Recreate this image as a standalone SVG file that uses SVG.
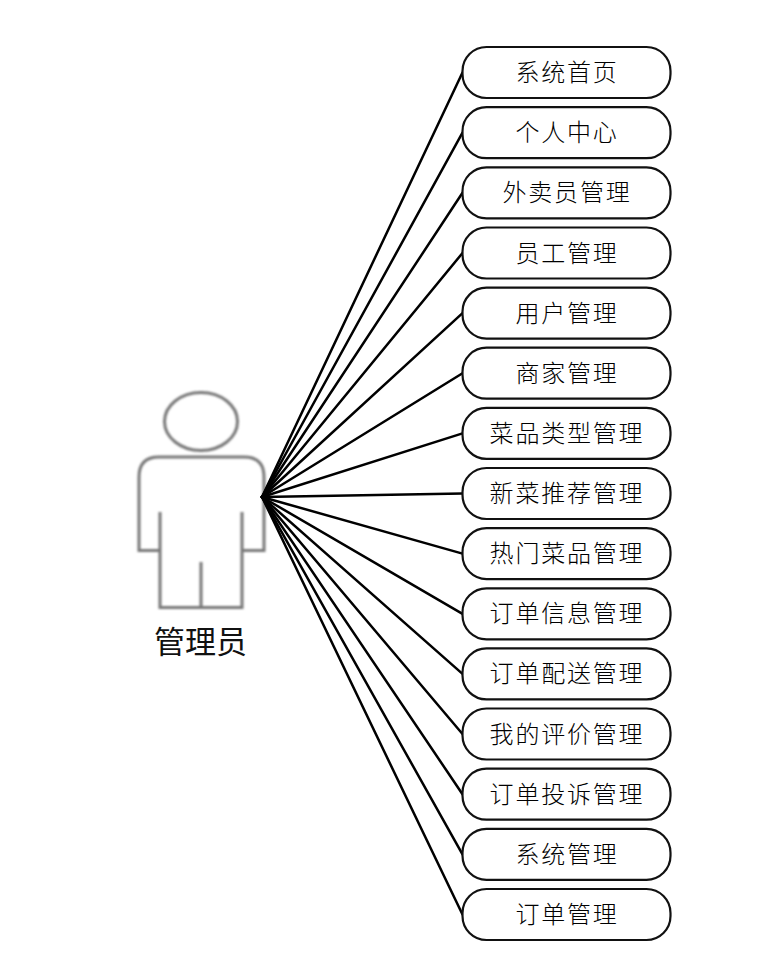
<svg xmlns="http://www.w3.org/2000/svg" width="767" height="972" viewBox="0 0 767 972">
<style>
.n rect{fill:#fff;stroke:#111;stroke-width:2.2}
.n text{font-family:"Noto Sans CJK SC",sans-serif;font-weight:300;font-size:24px;letter-spacing:1.8px;fill:#000;text-anchor:middle}
#connectors line{stroke:#000;stroke-width:2.5;stroke-linecap:round}
.fig{fill:none;stroke:#777;stroke-width:3}
</style>
<defs><filter id="soft" x="-10%" y="-10%" width="120%" height="120%"><feGaussianBlur stdDeviation="0.8"/></filter></defs>
<rect width="767" height="972" fill="#fff"/>
<g id="actor">
<g class="fig" filter="url(#soft)">
<ellipse cx="201" cy="421.5" rx="36.5" ry="29"/>
<path d="M160 550.5H139V477Q139 457 159 457H244Q264 457 264 477V550.5H242"/>
<path d="M160 512V607.5H242V512M201 562V607.5"/>
</g>
<text x="200.5" y="653" font-family="Noto Sans CJK SC, sans-serif" font-size="31" text-anchor="middle" fill="#111">管理员</text>
</g>
<g id="connectors">
<line x1="262" y1="497" x2="462.5" y2="72.5"/>
<line x1="262" y1="497" x2="462.5" y2="132.7"/>
<line x1="262" y1="497" x2="462.5" y2="192.8"/>
<line x1="262" y1="497" x2="462.5" y2="253"/>
<line x1="262" y1="497" x2="462.5" y2="313.1"/>
<line x1="262" y1="497" x2="462.5" y2="373.2"/>
<line x1="262" y1="497" x2="462.5" y2="433.4"/>
<line x1="262" y1="497" x2="462.5" y2="493.5"/>
<line x1="262" y1="497" x2="462.5" y2="553.6"/>
<line x1="262" y1="497" x2="462.5" y2="613.8"/>
<line x1="262" y1="497" x2="462.5" y2="673.9"/>
<line x1="262" y1="497" x2="462.5" y2="734"/>
<line x1="262" y1="497" x2="462.5" y2="794.2"/>
<line x1="262" y1="497" x2="462.5" y2="854.3"/>
<line x1="262" y1="497" x2="462.5" y2="914.5"/>
</g>
<g id="n1" class="n"><rect x="462.5" y="47" width="208" height="51" rx="24"/><text x="567" y="81">系统首页</text></g>
<g id="n2" class="n"><rect x="462.5" y="107.2" width="208" height="51" rx="24"/><text x="567" y="141.2">个人中心</text></g>
<g id="n3" class="n"><rect x="462.5" y="167.3" width="208" height="51" rx="24"/><text x="567" y="201.3">外卖员管理</text></g>
<g id="n4" class="n"><rect x="462.5" y="227.5" width="208" height="51" rx="24"/><text x="567" y="261.5">员工管理</text></g>
<g id="n5" class="n"><rect x="462.5" y="287.6" width="208" height="51" rx="24"/><text x="567" y="321.6">用户管理</text></g>
<g id="n6" class="n"><rect x="462.5" y="347.7" width="208" height="51" rx="24"/><text x="567" y="381.7">商家管理</text></g>
<g id="n7" class="n"><rect x="462.5" y="407.9" width="208" height="51" rx="24"/><text x="567" y="441.9">菜品类型管理</text></g>
<g id="n8" class="n"><rect x="462.5" y="468" width="208" height="51" rx="24"/><text x="567" y="502">新菜推荐管理</text></g>
<g id="n9" class="n"><rect x="462.5" y="528.1" width="208" height="51" rx="24"/><text x="567" y="562.1">热门菜品管理</text></g>
<g id="n10" class="n"><rect x="462.5" y="588.3" width="208" height="51" rx="24"/><text x="567" y="622.3">订单信息管理</text></g>
<g id="n11" class="n"><rect x="462.5" y="648.4" width="208" height="51" rx="24"/><text x="567" y="682.4">订单配送管理</text></g>
<g id="n12" class="n"><rect x="462.5" y="708.5" width="208" height="51" rx="24"/><text x="567" y="742.5">我的评价管理</text></g>
<g id="n13" class="n"><rect x="462.5" y="768.7" width="208" height="51" rx="24"/><text x="567" y="802.7">订单投诉管理</text></g>
<g id="n14" class="n"><rect x="462.5" y="828.8" width="208" height="51" rx="24"/><text x="567" y="862.8">系统管理</text></g>
<g id="n15" class="n"><rect x="462.5" y="889" width="208" height="51" rx="24"/><text x="567" y="923">订单管理</text></g>
</svg>
